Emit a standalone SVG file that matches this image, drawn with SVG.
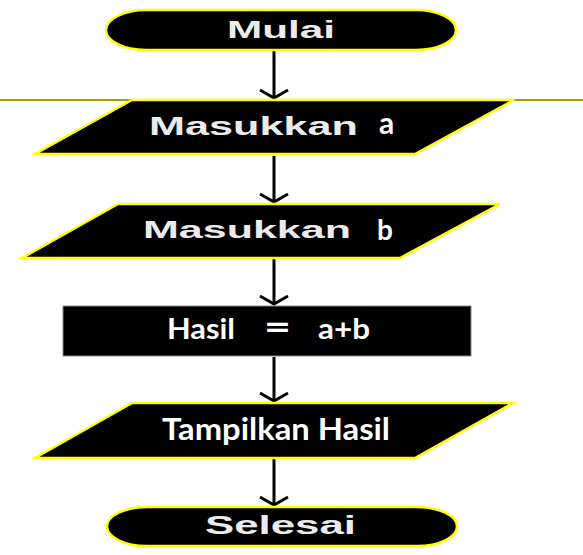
<svg xmlns="http://www.w3.org/2000/svg" width="583" height="555" viewBox="0 0 583 555">
<defs>
<style>
.shape{fill:#000;stroke:#ffff00;stroke-width:2.5}
.rect{fill:#000;stroke:#888;stroke-width:1}
.ar{fill:none;stroke:#000;stroke-width:3}
.t1{font-family:"Liberation Sans",Arial,sans-serif;font-weight:bold;fill:#ebebeb}
.t2{font-family:Lato,"Open Sans",sans-serif;font-weight:bold;fill:#fff}
</style>
</defs>
<rect width="583" height="555" fill="#fff"/>
<line x1="0" y1="100" x2="583" y2="100" stroke="#a8a000" stroke-width="2"/>
<g id="connectors">
<line class="ar" x1="274" y1="51" x2="274" y2="98"/>
<polyline class="ar" points="260,90 274,98 288,90"/>
<line class="ar" x1="274" y1="156" x2="274" y2="202"/>
<polyline class="ar" points="260,194 274,202 288,194"/>
<line class="ar" x1="274" y1="259" x2="274" y2="304"/>
<polyline class="ar" points="260,296 274,304 288,296"/>
<line class="ar" x1="274" y1="357" x2="274" y2="401"/>
<polyline class="ar" points="260,393 274,401 288,393"/>
<line class="ar" x1="274" y1="459" x2="274" y2="505"/>
<polyline class="ar" points="260,497 274,505 288,497"/>
</g>
<g id="mulai">
<rect class="shape" x="106" y="10" width="350" height="40" rx="40" ry="20"/>
<text class="t1" x="227" y="38" font-size="24" textLength="108" lengthAdjust="spacingAndGlyphs">Mulai</text>
</g>
<g id="masukkan-a">
<polygon class="shape" points="132,100 514,100 415,154 35,154"/>
<text class="t1" x="149" y="135" font-size="25" textLength="209" lengthAdjust="spacingAndGlyphs">Masukkan</text>
<text class="t2" x="379" y="134" font-size="30">a</text>
</g>
<g id="masukkan-b">
<polygon class="shape" points="118,204 500,204 400,258 22,258"/>
<text class="t1" x="143" y="238" font-size="24" textLength="208" lengthAdjust="spacingAndGlyphs">Masukkan</text>
<text class="t2" x="377" y="240" font-size="28">b</text>
</g>
<g id="hasil">
<rect class="rect" x="63" y="306" width="408" height="50"/>
<text class="t2" x="167" y="339" font-size="29" textLength="68" lengthAdjust="spacingAndGlyphs">Hasil</text>
<text class="t2" x="264" y="339" font-size="34" textLength="27" lengthAdjust="spacingAndGlyphs">=</text>
<text class="t2" x="318" y="339" font-size="29" textLength="52" lengthAdjust="spacingAndGlyphs">a+b</text>
</g>
<g id="tampilkan">
<polygon class="shape" points="132,403 513,403 415,458 35,458"/>
<text class="t2" x="162" y="440" font-size="30" textLength="228" lengthAdjust="spacingAndGlyphs">Tampilkan Hasil</text>
</g>
<g id="selesai">
<rect class="shape" x="107" y="507" width="350" height="39" rx="40" ry="19.5"/>
<text class="t1" x="205" y="534" font-size="25" textLength="151" lengthAdjust="spacingAndGlyphs">Selesai</text>
</g>
</svg>
